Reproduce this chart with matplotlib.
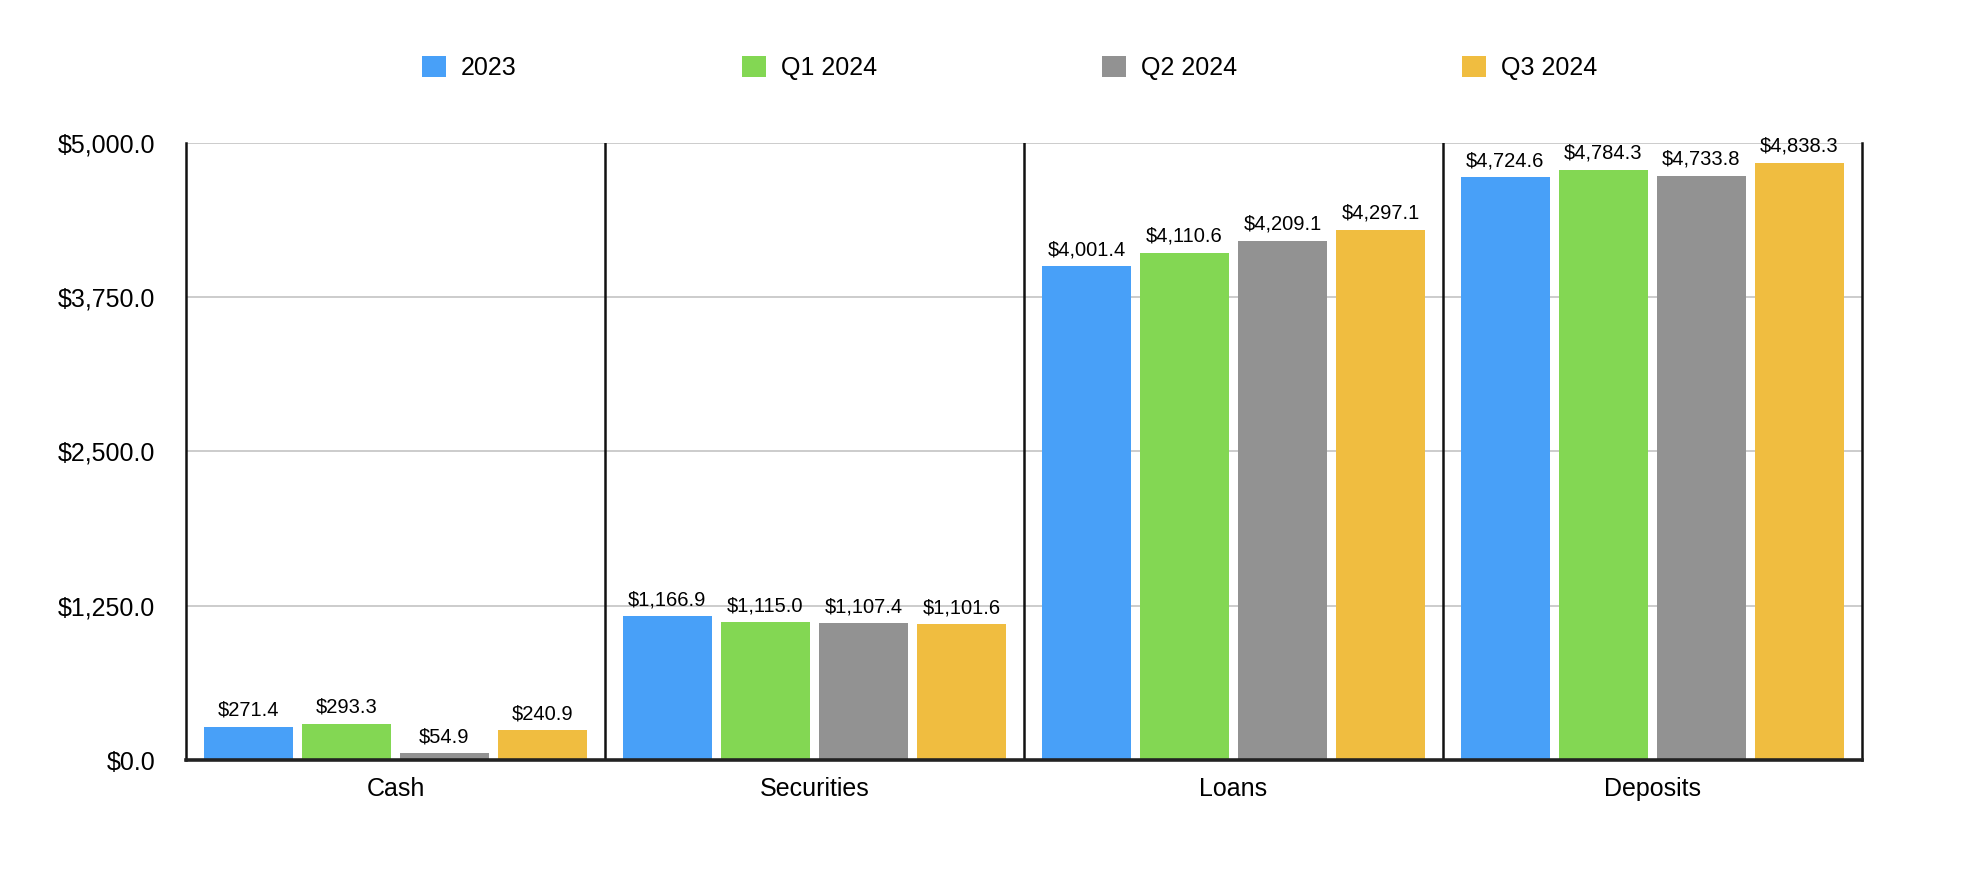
import matplotlib
matplotlib.use('Agg')
import matplotlib.pyplot as plt
import numpy as np
from matplotlib.ticker import FuncFormatter
from matplotlib.patches import Patch

plt.rcParams['font.family'] = ['Liberation Sans', 'DejaVu Sans']

# dane
categories = ['Cash', 'Securities', 'Loans', 'Deposits']
series_names = ['2023', 'Q1 2024', 'Q2 2024', 'Q3 2024']
v_2023 = [271.4, 1166.9, 4001.4, 4724.6]
v_q1_2024 = [293.3, 1115.0, 4110.6, 4784.3]
v_q2_2024 = [54.9, 1107.4, 4209.1, 4733.8]
v_q3_2024 = [240.9, 1101.6, 4297.1, 4838.3]
y_ticks = [0, 1250, 2500, 3750, 5000]

colors = ['#48A0F8', '#83D753', '#929292', '#F0BD40']


def generate_plot():
    series = [v_2023, v_q1_2024, v_q2_2024, v_q3_2024]

    fig = plt.figure(figsize=(19.68, 8.82), dpi=100)
    ax = fig.add_axes([0.0945, 0.1383, 0.8516, 0.6996])

    x = np.arange(len(categories)) + 0.5
    pitch = 0.234
    width = 0.2124

    for i, (vals, name, col) in enumerate(zip(series, series_names, colors)):
        pos = x + (i - 1.5) * pitch
        bars = ax.bar(pos, vals, width=width, color=col, label=name, zorder=3)
        for b, v in zip(bars, vals):
            ax.annotate('${:,.1f}'.format(v), (b.get_x() + b.get_width() / 2, v),
                        xytext=(0, 5), textcoords='offset points',
                        ha='center', va='bottom', fontsize=14.5, color='black', zorder=4)

    ax.set_xlim(0, len(categories))
    ax.set_ylim(0, 5000)
    ax.set_yticks(y_ticks)
    ax.yaxis.set_major_formatter(FuncFormatter(lambda v, p: '${:,.1f}'.format(v)))
    ax.set_xticks(x)
    ax.set_xticklabels(categories)
    ax.tick_params(axis='both', length=0, labelsize=18)
    ax.tick_params(axis='y', pad=22)
    ax.tick_params(axis='x', pad=12)

    # siatka pozioma
    ax.yaxis.grid(True, color='#C4C4C4', linewidth=1.2, zorder=1)
    ax.set_axisbelow(True)

    # pionowe separatory grup
    for k in range(1, len(categories)):
        ax.axvline(k, color='#111111', linewidth=1.8, zorder=2)

    ax.spines['top'].set_visible(False)
    ax.spines['left'].set_color('#111111')
    ax.spines['left'].set_linewidth(1.8)
    ax.spines['right'].set_color('#111111')
    ax.spines['right'].set_linewidth(1.8)
    ax.spines['bottom'].set_color('#222222')
    ax.spines['bottom'].set_linewidth(2.6)
    ax.spines['bottom'].set_zorder(5)

    handles = [Patch(facecolor=c, label=n) for c, n in zip(colors, series_names)]
    fig.legend(handles=handles, loc='center', bbox_to_anchor=(0.513, 0.923), ncol=4,
               frameon=False, fontsize=18, handlelength=0.96, handleheight=0.96,
               handletextpad=0.6, columnspacing=9.0)

    fig.savefig('out.png', dpi=100)
    plt.close(fig)


if __name__ == "__main__":
    generate_plot()
